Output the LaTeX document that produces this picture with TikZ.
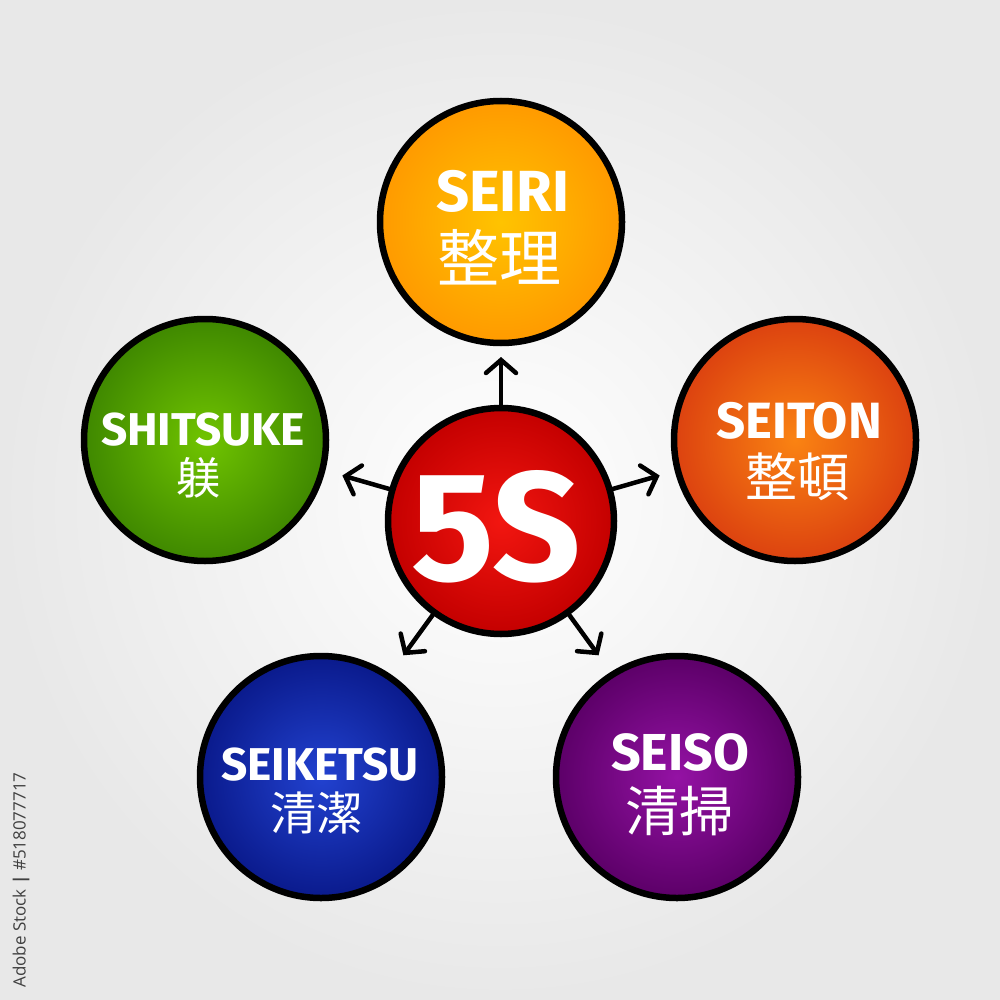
\documentclass[tikz,border=0pt]{standalone}
\usepackage{fontspec}
\setmainfont{Fira Sans}
\newfontfamily\cjk{Noto Sans CJK JP}
\newfontfamily\wmfont{Open Sans}
\usetikzlibrary{arrows.meta,calc}
\definecolor{bggray}{HTML}{E8E8E8}
\definecolor{seiriIn}{HTML}{FFC300}
\definecolor{seiriOut}{HTML}{FF9A00}
\definecolor{seitonIn}{HTML}{FA8312}
\definecolor{seitonOut}{HTML}{DC4210}
\definecolor{shitIn}{HTML}{70C400}
\definecolor{shitOut}{HTML}{3F8800}
\definecolor{seikIn}{HTML}{2242D0}
\definecolor{seikOut}{HTML}{0A1A8C}
\definecolor{seisoIn}{HTML}{9412A4}
\definecolor{seisoOut}{HTML}{5C0068}
\definecolor{fiveIn}{HTML}{F21610}
\definecolor{fiveOut}{HTML}{C40000}
\begin{document}
\begin{tikzpicture}[x=1pt,y=-1pt,
  ball/.style={circle, draw=black, line width=6.5pt, minimum size=242pt, inner sep=0pt},
  head/.style={text=white, font=\bfseries\fontsize{#1}{#1}\selectfont, inner sep=0pt},
  kanji/.style={text=white, font=\cjk\fontsize{#1}{#1}\selectfont, inner sep=0pt},
  arr/.style={line width=4.5pt, line cap=round, -{Straight Barb[length=13pt,width=30pt,line cap=round]}}
]
\useasboundingbox (0,0) rectangle (1000,1000);
\shade[inner color=white, outer color=bggray] (0,0) rectangle (1000,1000);

% circles
\node[ball, inner color=seiriIn, outer color=seiriOut] (seiri) at (501,222) {};
\node[ball, inner color=seitonIn, outer color=seitonOut] (seiton) at (795,440) {};
\node[ball, inner color=shitIn, outer color=shitOut] (shitsuke) at (205,440) {};
\node[ball, inner color=seikIn, outer color=seikOut] (seiketsu) at (321,777) {};
\node[ball, inner color=seisoIn, outer color=seisoOut] (seiso) at (677,777) {};
\node[ball, minimum size=226pt, inner color=fiveIn, outer color=fiveOut] (c) at (501,521) {};

% labels
\node[head=58] (seiriH) at (503,191) {SEIRI};
\node[kanji=62] (seiriK) at (499,257) {整理};
\node[head=51] (seitonH) at (799,421) {SEITON};
\node[kanji=52] (seitonK) at (797,477) {整頓};
\node[head=46] (shitH) at (203,430) {SHITSUKE};
\node[kanji=44] (shitK) at (198,478) {躾};
\node[head=46] (seikH) at (320,765) {SEIKETSU};
\node[kanji=46] (seikK) at (316,813) {清潔};
\node[head=52] (seisoH) at (680,752) {SEISO};
\node[kanji=54] (seisoK) at (679,811) {清掃};
\node[head=155] (fiveH) at (496,527) {5S};

% arrows
\coordinate (e1) at ($(c)+(90:164pt)$);
\coordinate (e2) at ($(c)+(16:165pt)$);
\coordinate (e3) at ($(c)+(164:165pt)$);
\coordinate (e4) at ($(c)+(234:166pt)$);
\coordinate (e5) at ($(c)+(306:166pt)$);
\draw[arr] (c.90) -- (e1);
\draw[arr] (c.16) -- (e2);
\draw[arr] (c.164) -- (e3);
\draw[arr] (c.234) -- (e4);
\draw[arr] (c.306) -- (e5);

% side note
\node[rotate=90, text=black!75, font=\wmfont\fontsize{17}{17}\selectfont, inner sep=0pt] (wm) at (21,880) {Adobe Stock \textbf{|} \#518077717};
\end{tikzpicture}
\end{document}
